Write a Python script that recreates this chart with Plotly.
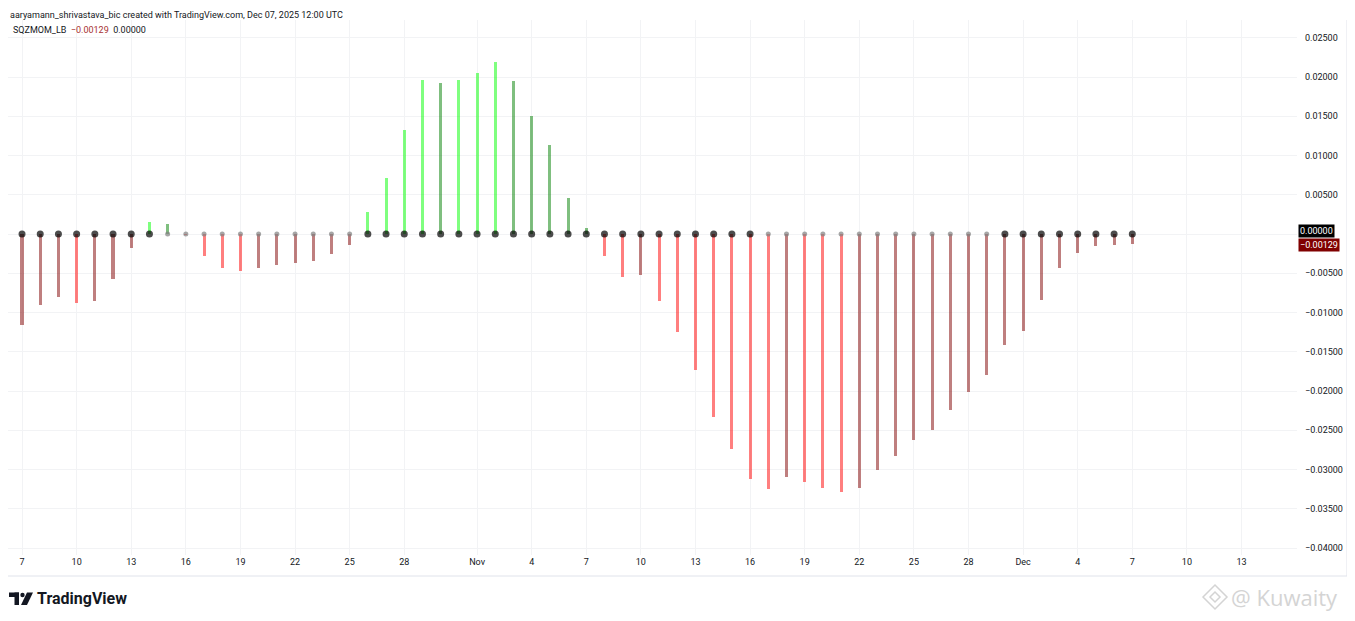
import pandas as pd
import plotly.graph_objs as go

# daily squeeze momentum values, Oct 6 .. Dec 7 2025
dates = pd.date_range("2025-10-06", "2025-12-07", freq="D")
momentum = [
    -0.01250,
    -0.01160, -0.00909, -0.00807, -0.00879, -0.00850, -0.00577, -0.00183,
    0.00153, 0.00127, -0.00008, -0.00276, -0.00429, -0.00476, -0.00437,
    -0.00400, -0.00369, -0.00344, -0.00259, -0.00140, 0.00276, 0.00713,
    0.01325, 0.01962, 0.01924, 0.01965, 0.02055, 0.02187, 0.01949,
    0.01503, 0.01134, 0.00459, 0.00076, -0.00276, -0.00543, -0.00522,
    -0.00850, -0.01253, -0.01732, -0.02327, -0.02743, -0.03117, -0.03244,
    -0.03100, -0.03155, -0.03231, -0.03282, -0.03231, -0.03006, -0.02828,
    -0.02628, -0.02497, -0.02242, -0.02017, -0.01796, -0.01410, -0.01240,
    -0.00841, -0.00437, -0.00246, -0.00153, -0.00136, -0.00129,
]
# 1 = squeeze on (black cross), 0 = squeeze off (gray cross)
squeeze_on = [0] + [1] * 8 + [0] * 11 + [1] * 22 + [0] * 13 + [1] * 8

tick_dates = ["2025-10-07", "2025-10-10", "2025-10-13", "2025-10-16", "2025-10-19",
              "2025-10-22", "2025-10-25", "2025-10-28", "2025-11-01", "2025-11-04",
              "2025-11-07", "2025-11-10", "2025-11-13", "2025-11-16", "2025-11-19",
              "2025-11-22", "2025-11-25", "2025-11-28", "2025-12-01", "2025-12-04",
              "2025-12-07", "2025-12-10", "2025-12-13"]
tick_text = ["7", "10", "13", "16", "19", "22", "25", "28", "Nov", "4", "7", "10",
             "13", "16", "19", "22", "25", "28", "Dec", "4", "7", "10", "13"]
price_ticks = [0.025, 0.02, 0.015, 0.01, 0.005, 0.0, -0.005, -0.01, -0.015,
               -0.02, -0.025, -0.03, -0.035, -0.04]

FONT = "Roboto, Arial"
TEXT = "#131722"

# the page body adds an 8px margin, so work in screenshot pixels and shift
OFF = 8
W, H = 1355 - OFF, 621 - OFF
# plot pane in screenshot pixels
L, R, T, B = 8, 1297, 20, 555
ZERO_Y, PX_PER_UNIT = 234, 7850


def px(x):
    return (x - L) / (R - L)


def py(y):
    return (B - y) / (B - T)


def bar_colors(vals):
    # same rule as the LazyBear script: lime/green above zero, red/maroon below
    cols = []
    for i, v in enumerate(vals):
        p = vals[i - 1] if i > 0 else v
        if v > 0:
            cols.append("rgba(0,255,0,0.5)" if v > p else "rgba(0,128,0,0.5)")
        else:
            cols.append("rgba(255,0,0,0.5)" if v < p else "rgba(128,0,0,0.5)")
    return cols


def fmt(v):
    s = "%.5f" % abs(v)
    return ("\u2212" + s) if v < 0 else s


fig = go.Figure()

fig.add_trace(go.Bar(
    x=dates, y=momentum,
    marker=dict(color=bar_colors(momentum), line=dict(width=0)),
    width=0.17 * 86400000,
    hoverinfo="skip",
))

fig.add_trace(go.Scatter(
    x=dates, y=[0] * len(dates),
    mode="markers",
    marker=dict(color=["#000000" if s else "#808080" for s in squeeze_on],
                size=[7 if s else 5 for s in squeeze_on], line=dict(width=0)),
    hoverinfo="skip",
))

fig.update_layout(
    width=W, height=H,
    margin=dict(l=L - OFF, r=(W + OFF) - R, t=T - OFF, b=(H + OFF) - B),
    paper_bgcolor="white", plot_bgcolor="white",
    showlegend=False,
    bargap=0,
    font=dict(family=FONT, size=9, color=TEXT),
    xaxis=dict(
        type="date",
        range=["2025-10-06 05:30", "2025-12-16 01:10"],
        tickvals=tick_dates, ticktext=tick_text,
        showgrid=True, gridcolor="#f2f3f5", gridwidth=1,
        zeroline=False, showline=False, ticks="",
        tickfont=dict(size=9, color=TEXT, family=FONT),
    ),
    yaxis=dict(
        side="right",
        range=[-(B - ZERO_Y) / PX_PER_UNIT, (ZERO_Y - T) / PX_PER_UNIT],
        tickvals=price_ticks,
        ticktext=["" if v == 0 else fmt(v) for v in price_ticks],
        showgrid=True, gridcolor="#f2f3f5", gridwidth=1,
        zeroline=False, showline=False, ticks="",
        ticklabelstandoff=7,
        tickfont=dict(size=9, color=TEXT, family=FONT),
    ),
)

# pane borders (right of price scale, bottom of time scale)
border = "#e0e3eb"
fig.add_shape(type="line", xref="paper", yref="paper", x0=px(1347), x1=px(1347),
              y0=py(20), y1=py(576), line=dict(color=border, width=1))
fig.add_shape(type="line", xref="paper", yref="paper", x0=px(8), x1=px(1347),
              y0=py(576), y1=py(576), line=dict(color=border, width=1))

# price scale labels for zero line and last value
last = momentum[-1]
fig.add_annotation(xref="paper", yref="y", x=px(1298), y=0, yshift=3,
                   text="0.00000", showarrow=False, xanchor="left",
                   bgcolor="#000000", font=dict(color="white", size=9, family=FONT),
                   borderpad=1)
fig.add_annotation(xref="paper", yref="y", x=px(1298), y=last, yshift=-1,
                   text=fmt(last), showarrow=False, xanchor="left",
                   bgcolor="#800000", font=dict(color="white", size=9, family=FONT),
                   borderpad=1)

# header and indicator legend
fig.add_annotation(xref="paper", yref="paper", x=px(8), y=py(8),
                   text="aaryamann_shrivastava_bic created with TradingView.com, Dec 07, 2025 12:00 UTC",
                   showarrow=False, xanchor="left", yanchor="top",
                   font=dict(size=9, color=TEXT, family=FONT))
fig.add_annotation(xref="paper", yref="paper", x=px(11), y=py(30),
                   text="SQZMOM_LB  <span style='color:#a83232'>%s</span>  0.00000" % fmt(last),
                   showarrow=False, xanchor="left", yanchor="middle",
                   font=dict(size=9, color=TEXT, family=FONT))

# TradingView logo
logo = "#131722"
fig.add_shape(type="rect", xref="paper", yref="paper", x0=px(9), x1=px(19),
              y0=py(597), y1=py(592.5), fillcolor=logo, line=dict(width=0))
fig.add_shape(type="rect", xref="paper", yref="paper", x0=px(14.5), x1=px(19),
              y0=py(605), y1=py(592.5), fillcolor=logo, line=dict(width=0))
fig.add_shape(type="circle", xref="paper", yref="paper", x0=px(20.3), x1=px(24.7),
              y0=py(597.2), y1=py(592.8), fillcolor=logo, line=dict(width=0))
fig.add_shape(type="path", xref="paper", yref="paper",
              path="M %f %f L %f %f L %f %f L %f %f Z" % (
                  px(21), py(605), px(27), py(592.5), px(33), py(592.5), px(27), py(605)),
              fillcolor=logo, line=dict(width=0))
fig.add_annotation(xref="paper", yref="paper", x=px(35), y=py(598.5),
                   text="<b>TradingView</b>", showarrow=False, xanchor="left",
                   yanchor="middle", font=dict(size=16, color=logo, family="Roboto"))

# watermark
wm = "#d4d4d4"
fig.add_shape(type="path", xref="paper", yref="paper",
              path="M %f %f L %f %f L %f %f L %f %f Z" % (
                  px(1203), py(597), px(1215), py(585), px(1227), py(597), px(1215), py(609)),
              line=dict(color=wm, width=1.5))
fig.add_shape(type="path", xref="paper", yref="paper",
              path="M %f %f L %f %f L %f %f L %f %f Z" % (
                  px(1210), py(597), px(1215), py(592), px(1220), py(597), px(1215), py(602)),
              line=dict(color=wm, width=1.5))
fig.add_annotation(xref="paper", yref="paper", x=px(1229), y=py(597),
                   text="@ Kuwaity", showarrow=False, xanchor="left", yanchor="middle",
                   font=dict(size=22, color=wm, family="Open Sans"))

fig.write_html("out.html")
